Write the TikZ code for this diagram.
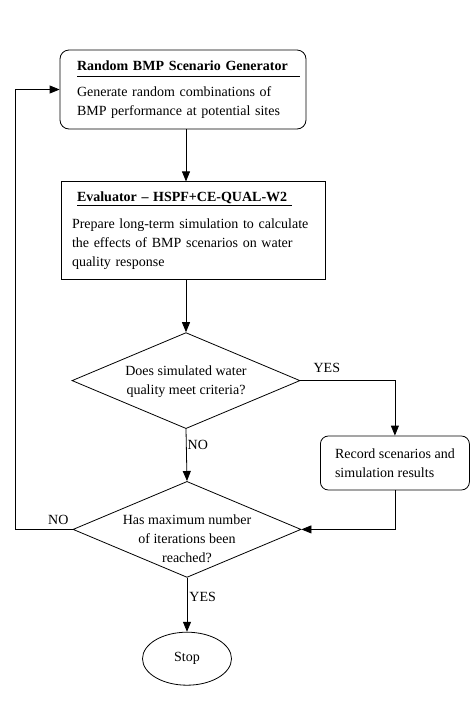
\documentclass[tikz,border=0pt]{standalone}
\usepackage{fontspec}
\setmainfont{Liberation Serif}
\usepackage{tikz}
\usetikzlibrary{arrows.meta,positioning,shapes.geometric}

\begin{document}
\begin{tikzpicture}[
  font=\fontsize{14}{19}\selectfont,
  genbox/.style={rectangle, rounded corners=9pt, draw, line width=0.8pt, minimum width=246pt, minimum height=79pt, inner xsep=17pt, text width=212pt, align=left},
  evalbox/.style={rectangle, draw, line width=0.8pt, minimum width=264pt, minimum height=98pt, inner xsep=11pt, text width=242pt, align=left},
  recbox/.style={rectangle, rounded corners=8pt, draw, line width=0.8pt, minimum width=149pt, minimum height=54pt, align=left},
  check/.style={diamond, draw, line width=0.8pt, minimum width=228pt, minimum height=96pt, inner sep=0pt},
  stopnode/.style={ellipse, draw, line width=0.8pt, minimum width=89pt, minimum height=53pt},
  arr/.style={-{Triangle[length=10pt,width=8pt]}, line width=0.8pt}
]
\useasboundingbox (0,0) rectangle (474pt,-716pt);

\node[genbox] (gen) at (183pt,-89.5pt) {\textbf{Random BMP Scenario Generator}\\[-13pt]\rule{223pt}{0.7pt}\\[1pt]Generate random combinations of\\BMP performance at potential sites};
\node[evalbox, below=52pt of gen, xshift=10pt] (eval) {\hspace*{5pt}\underline{\textbf{Evaluator -- HSPF+CE-QUAL-W2}\ }\\[8pt]Prepare long-term simulation to calculate\\the effects of BMP scenarios on water\\quality response};
\node[check, below=52pt of eval, xshift=-7pt, label={[align=center, yshift=-1pt]center:Does simulated water\\quality meet criteria?}] (chk1) {};
\node[check, below=52pt of chk1, xshift=1pt, label={[align=center, yshift=-9pt, text depth=0pt]center:{\baselineskip=17pt Has maximum number\\of iterations been\\reached?}}] (chk2) {};
\node[stopnode, below=54pt of chk2] (stop) {Stop};
\node[recbox, below=55pt of chk1.east, xshift=94.5pt] (rec) {Record scenarios and\\simulation results};

\draw[arr] (gen.south -| chk1) -- (eval.north -| chk1);
\draw[arr] (eval.south -| chk1) -- (chk1.north);
\draw[arr] (chk1.south) -- node[pos=0.3, right, inner sep=1pt]{NO} (chk2.north);
\draw[arr] (chk1.east) -- node[pos=0.28, above=4pt]{YES} (chk1.east -| rec.north) -- (rec.north);
\draw[arr] (rec.south) |- (chk2.east);
\draw[arr] (chk2.west) -- node[pos=0.25, above=1pt]{NO} ++(-57pt,0) |- (gen.west);
\draw[arr] (chk2.south) -- node[pos=0.35, right, inner sep=2pt]{YES} (stop.north);
\end{tikzpicture}
\end{document}
